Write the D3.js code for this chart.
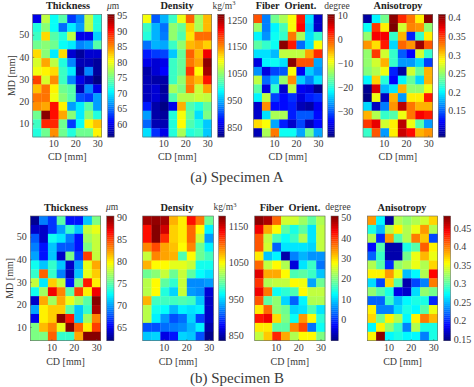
<!DOCTYPE html>
<html>
<head>
<meta charset="utf-8">
<script src="https://cdn.jsdelivr.net/npm/d3@7"></script>
<style>
  html, body { margin: 0; padding: 0; background: #fff; }
  text { font-family: "Liberation Serif", serif; fill: #3a3a3a; }
  .title { font-weight: bold; font-size: 10.3px; word-spacing: 2.5px; fill: #222; }
  .tick text { font-size: 10px; font-family: "Liberation Serif", serif; }
  .axis path { stroke: #555; stroke-width: .8; fill: none; }
  .axis line { stroke: #555; stroke-width: .6; }
</style>
</head>
<body>
<div id="chart"></div>
<script>
var columns = [0, 1, 2, 3, 4, 5, 6, 7];
var rows = [0, 1, 2, 3, 4, 5, 6, 7, 8, 9, 10, 11, 12, 13];
var cdTicks = [10, 20, 30];
var mdTicks = [10, 20, 30, 40, 50];

var thicknessA = [
  [60,78,71,74,63,66,78,72],
  [72,76,71,65,70,67,78,72],
  [73,82,74,72,78,60,60,69],
  [75,76,75,71,70,66,67,74],
  [82,76,70,82,59,57,59,59],
  [79,84,78,72,66,58,58,57],
  [80,81,82,73,70,57,66,57],
  [88,79,85,73,66,60,58,56],
  [83,86,81,75,74,58,66,60],
  [86,86,80,76,74,64,63,67],
  [85,84,90,81,67,70,74,67],
  [75,95,90,84,76,70,76,72],
  [73,89,89,75,63,71,81,83],
  [72,75,85,75,72,75,75,81]
];
var densityA = [
  [1095,910,950,1010,1090,1170,1060,1130],
  [1010,950,920,1050,1030,1120,1060,1130],
  [1000,950,925,1050,1020,1110,1165,1165],
  [920,950,945,1010,1050,1130,1140,1120],
  [880,895,900,960,1030,1170,1130,1220],
  [860,850,860,1010,1030,1160,1140,1265],
  [830,850,870,1010,1030,1190,1100,1255],
  [835,830,830,1010,1050,1150,1130,1205],
  [840,850,825,1060,1040,1160,1075,1140],
  [840,850,830,1020,1065,1065,1075,1070],
  [880,830,815,860,1135,1020,1000,1030],
  [940,830,825,1000,1095,1030,970,1040],
  [915,835,835,1000,1100,1020,1000,960],
  [970,890,860,1000,1060,1000,1010,960]
];
var fiberA = [
  [0,-28,-16,-13,-9,3,-23,-37],
  [-14,-28,-22,-18,-9,4,-24,-37],
  [-22,-27,-21,-19,-2,-13,-23,-19],
  [-17,-19,-21,10,3,-29,-23,-9],
  [-23,-23,-25,-12,-12,-12,-4,2],
  [-36,-22,-21,-23,10,0,0,-26],
  [-27,-36,-31,-30,-9,-35,-24,-27],
  [-12,-29,-25,-14,-3,-24,-28,-23],
  [-17,-36,-19,-37,-12,-35,-36,-40],
  [-22,-12,-31,-34,-32,-36,-33,-32],
  [-37,-3,-34,-34,-33,-38,-39,-35],
  [-37,-23,-13,-13,-33,-30,-30,-34],
  [-7,-9,-26,-33,-37,-31,-38,-34],
  [-38,-13,-2,-21,-21,-26,-16,-26]
];
var anisotropyA = [
  [.09,.2,.24,.405,.355,.33,.29,.405],
  [.205,.35,.29,.41,.27,.325,.32,.25],
  [.25,.37,.37,.22,.31,.13,.22,.29],
  [.32,.295,.36,.19,.335,.32,.4,.34],
  [.25,.35,.27,.22,.15,.12,.27,.22],
  [.25,.27,.31,.22,.17,.17,.19,.14],
  [.245,.26,.28,.13,.09,.27,.235,.31],
  [.2,.3,.215,.12,.2,.235,.19,.31],
  [.085,.38,.18,.195,.31,.25,.25,.28],
  [.08,.28,.1,.31,.17,.29,.29,.36],
  [.19,.1,.16,.32,.39,.33,.31,.31],
  [.31,.26,.22,.23,.28,.33,.37,.36],
  [.35,.375,.27,.29,.39,.28,.23,.17],
  [.22,.34,.17,.29,.385,.365,.31,.32]
];
var thicknessB = [
  [62.5,69,67,75,66,66,71,76],
  [64,64,67,70,74,71,78,79],
  [68,64,73,72,69,66,77,78],
  [69,66,71,68,68,66,76,78],
  [70,66,71,64,76,67,85,78],
  [73,71,74,71,64,70,79,82],
  [74,84,74,69,63.5,71,79,81],
  [78,72,81,78,66,76,86,80],
  [73,77,87,83,75,85,80,87],
  [64,82,77,82,79,77,75,90],
  [70,80,81,81,75,71,74,89],
  [65,80,81,90,86,71,77,83],
  [76,81.5,83,79,90,84,80,85],
  [76,76,84,74,74,82,90,90]
];
var densityB = [
  [1165,1170,1165,1075,1055,1130,1095,1000],
  [1130,1175,1150,1065,1055,1100,1050,960],
  [1130,1175,1120,1065,1055,1100,1030,930],
  [1090,1110,1080,1070,1050,1090,1000,960],
  [1030,1090,1080,1075,990,1050,1000,985],
  [1075,1050,1050,1040,1040,1030,970,970],
  [1000,1010,1030,1000,1030,995,965,955],
  [1025,1050,995,980,1030,925,925,930],
  [1025,1050,975,950,1030,930,925,865],
  [1075,985,985,985,990,985,945,860],
  [1025,970,965,940,960,955,960,860],
  [1025,960,930,905,915,950,900,860],
  [905,905,915,920,925,940,960,850],
  [945,950,870,885,950,945,905,840]
];
var fiberB = [
  [50,48,37,25,25,22,18,23],
  [44,33,28,18,14,18,11,24],
  [38,24,17,13,16,23,11,24],
  [38,25,3,11,11,11,10,24],
  [29,9,12,-8,5,8,6,6],
  [37,24,28,23,-5,11,16,4],
  [45,33,33,28,17,18,16,9],
  [40,23,24,24,28,27,7,19],
  [44,36,13,15,17,28,24,24],
  [38,18,21,10,3,12,23,23],
  [29,37,21,19,10,11,17,11],
  [42,44,30,20,13,34,28,15],
  [29,29,18,18,35,39,4,13],
  [24,31,41,33,23,28,28,20]
];
var anisotropyB = [
  [.39,.27,.155,.33,.32,.33,.34,.37],
  [.28,.25,.33,.36,.33,.35,.39,.33],
  [.33,.2,.39,.3,.33,.4,.375,.21],
  [.19,.3,.16,.16,.28,.3,.41,.36],
  [.22,.29,.16,.16,.31,.35,.38,.35],
  [.33,.3,.2,.32,.33,.35,.33,.37],
  [.36,.36,.39,.35,.25,.27,.33,.44],
  [.26,.21,.37,.3,.16,.21,.23,.4],
  [.32,.3,.28,.18,.17,.26,.32,.31],
  [.22,.22,.29,.25,.27,.28,.28,.2],
  [.36,.23,.23,.26,.28,.27,.3,.35],
  [.37,.31,.36,.33,.27,.36,.4,.38],
  [.27,.36,.32,.29,.23,.33,.28,.28],
  [.36,.48,.27,.28,.27,.27,.23,.28]
];

var width = 474, height = 387;

var svg = d3.select("#chart").append("svg")
  .attr("width", width)
  .attr("height", height)
  .style("display", "block");

// matlab jet
function jet(t) {
  var c = function(v) { return Math.round(255 * Math.max(0, Math.min(1, v))); };
  return "rgb(" + c(1.5 - Math.abs(4 * t - 3)) + "," + c(1.5 - Math.abs(4 * t - 2)) + "," + c(1.5 - Math.abs(4 * t - 1)) + ")";
}

function drawPanel(p) {
  var x = d3.scaleBand().domain(columns).range([p.x0, p.x1]);
  var y = d3.scaleBand().domain(rows).range([p.y0, p.y1]);
  var xAxisScale = d3.scaleLinear().domain([0.6, 32]).range([p.x0, p.x1]);
  var yAxisScale = d3.scaleLinear().domain([3.9, 59.2]).range([p.y1, p.y0]);
  var color = d3.scaleLinear().domain(p.range).range([0, 1]);

  var cells = [];
  p.values.forEach(function(row, r) {
    row.forEach(function(v, c) { cells.push({r: r, c: c, v: v}); });
  });

  var g = svg.append("g");
  g.selectAll("rect")
    .data(cells)
    .enter()
    .append("rect")
    .attr("x", function(d) { return x(d.c); })
    .attr("y", function(d) { return y(d.r); })
    .attr("width", x.bandwidth() + .3)
    .attr("height", y.bandwidth() + .3)
    .attr("fill", function(d) { return jet(color(d.v)); });

  g.append("rect")
    .attr("x", p.x0).attr("y", p.y0)
    .attr("width", p.x1 - p.x0).attr("height", p.y1 - p.y0)
    .attr("fill", "none").attr("stroke", "#666").attr("stroke-width", .6);

  g.append("g")
    .attr("class", "axis")
    .attr("transform", "translate(0," + p.y1 + ")")
    .call(d3.axisBottom(xAxisScale).tickValues(cdTicks).tickSize(-1.5).tickPadding(3).tickSizeOuter(0))
    .select(".domain").remove();

  if (p.left) {
    g.append("g")
      .attr("class", "axis")
      .attr("transform", "translate(" + p.x0 + ",0)")
      .call(d3.axisLeft(yAxisScale).tickValues(mdTicks).tickSize(-1.5).tickPadding(3.5).tickSizeOuter(0))
      .select(".domain").remove();
    g.append("text")
      .attr("transform", "translate(" + p.ylabelX + "," + (p.y0 + p.y1) / 2 + ") rotate(-90)")
      .attr("text-anchor", "middle")
      .style("font-size", "10px")
      .text("MD [mm]");
  }

  g.append("text")
    .attr("x", (p.x0 + p.x1) / 2)
    .attr("y", p.y1 + p.xlabelDy)
    .attr("text-anchor", "middle")
    .style("font-size", "10px")
    .text("CD [mm]");

  g.append("text")
    .attr("class", "title")
    .attr("x", p.titleX)
    .attr("y", p.y0 - p.titleDy)
    .attr("text-anchor", "middle")
    .text(p.title);

  // colorbar
  var cbY = d3.scaleLinear().domain(p.range).range([p.y1, p.y0]);
  var steps = d3.range(64);
  var stepH = (p.y1 - p.y0) / steps.length;
  g.selectAll("rect.cb")
    .data(steps)
    .enter()
    .append("rect")
    .attr("class", "cb")
    .attr("x", p.cb0)
    .attr("y", function(d) { return p.y1 - (d + 1) * stepH; })
    .attr("width", p.cb1 - p.cb0)
    .attr("height", stepH + .3)
    .attr("fill", function(d) { return jet((d + .5) / steps.length); });
  g.append("rect")
    .attr("x", p.cb0).attr("y", p.y0)
    .attr("width", p.cb1 - p.cb0).attr("height", p.y1 - p.y0)
    .attr("fill", "none").attr("stroke", "#666").attr("stroke-width", .5);
  g.append("g")
    .attr("class", "axis")
    .attr("transform", "translate(" + p.cb1 + ",0)")
    .call(d3.axisRight(cbY).tickValues(p.ticks).tickSize(0).tickPadding(3).tickSizeOuter(0).tickFormat(d3.format(p.fmt)))
    .select(".domain").remove();

  if (p.unit) {
    var u = g.append("text")
      .attr("x", p.unitX)
      .attr("y", p.y0 - p.titleDy - .8)
      .attr("text-anchor", "middle")
      .style("font-size", "9.5px");
    if (p.unit == "um") {
      u.append("tspan").style("font-style", "italic").text("μ");
      u.append("tspan").text("m");
    } else if (p.unit == "kg") {
      u.append("tspan").text("kg/m");
      u.append("tspan").attr("dy", -3.5).style("font-size", "6.5px").text("3");
    } else {
      u.text(p.unit);
    }
  }
}

var panels = [
  {values: thicknessA, title: "Thickness", titleX: 68, unit: "um", unitX: 113, range: [55.9, 95.4], ticks: [60,65,70,75,80,85,90,95], fmt: "d",
   x0: 32.7, x1: 101.7, y0: 14.3, y1: 137, cb0: 107.7, cb1: 114.3, left: true, ylabelX: 15, xlabelDy: 22.5, titleDy: 5},
  {values: densityA, title: "Density", titleX: 177, unit: "kg", unitX: 224, range: [812, 1271], ticks: [850,950,1050,1150,1250], fmt: "d",
   x0: 142.7, x1: 211.7, y0: 14.3, y1: 137, cb0: 217.7, cb1: 224.3, xlabelDy: 22.5, titleDy: 5},
  {values: fiberA, title: "Fiber Orient.", titleX: 286, unit: "degree", unitX: 337, range: [-40.8, 10.5], ticks: [-30,-20,-10,0,10], fmt: "d",
   x0: 253.3, x1: 322.3, y0: 14.3, y1: 137, cb0: 327.7, cb1: 334.7, xlabelDy: 22.5, titleDy: 5},
  {values: anisotropyA, title: "Anisotropy", titleX: 398, range: [.079, .409], ticks: [.15,.2,.25,.3,.35,.4], fmt: "",
   x0: 363, x1: 432.7, y0: 14.3, y1: 137, cb0: 438.3, cb1: 445.3, xlabelDy: 22.5, titleDy: 5},
  {values: thicknessB, title: "Thickness", titleX: 66, unit: "um", unitX: 112, range: [62, 90.2], ticks: [65,70,75,80,85,90], fmt: "d",
   x0: 30.3, x1: 100.7, y0: 216, y1: 340.7, cb0: 106.7, cb1: 114, left: true, ylabelX: 13, xlabelDy: 24.5, titleDy: 5},
  {values: densityB, title: "Density", titleX: 177, unit: "kg", unitX: 225, range: [836, 1177], ticks: [850,950,1050,1150], fmt: "d",
   x0: 142.7, x1: 213.3, y0: 216, y1: 340.7, cb0: 218.7, cb1: 225.7, xlabelDy: 24.5, titleDy: 5},
  {values: fiberB, title: "Fiber Orient.", titleX: 290, unit: "degree", unitX: 338, range: [-10.5, 50.8], ticks: [0,10,20,30,40,50], fmt: "d",
   x0: 254.7, x1: 325, y0: 216, y1: 340.7, cb0: 331, cb1: 338.3, xlabelDy: 24.5, titleDy: 5},
  {values: anisotropyB, title: "Anisotropy", titleX: 402, range: [.145, .483], ticks: [.15,.2,.25,.3,.35,.4,.45], fmt: "",
   x0: 367.3, x1: 437.7, y0: 216, y1: 340.7, cb0: 443.7, cb1: 450.7, xlabelDy: 24.5, titleDy: 5}
];
panels.forEach(drawPanel);

var captions = ["(a) Specimen A", "(b) Specimen B"];
svg.selectAll("text.caption")
  .data(captions)
  .enter()
  .append("text")
  .attr("class", "caption")
  .attr("x", 237)
  .attr("y", function(d, i) { return i == 0 ? 182 : 383; })
  .attr("text-anchor", "middle")
  .style("font-size", "15px")
  .text(function(d) { return d; });
</script>
</body>
</html>
